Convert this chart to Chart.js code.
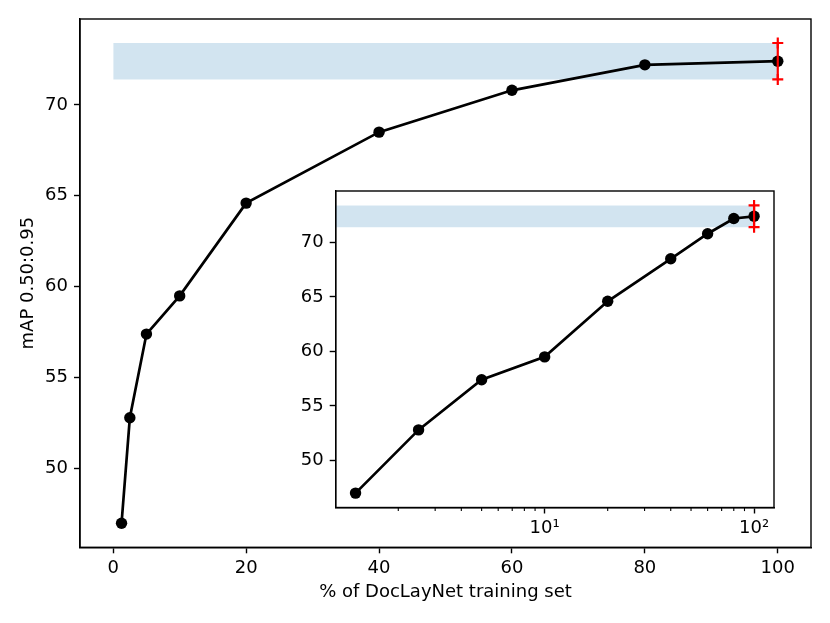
<!DOCTYPE html>
<html>
<head>
<meta charset="utf-8">
<script src="https://cdn.jsdelivr.net/npm/chart.js@4"></script>
<style>
  html, body { margin: 0; padding: 0; background: #fff; }
  #wrap { position: relative; width: 830px; height: 623px; }
  #main { position: absolute; left: 0; top: 0; }
  #inset { position: absolute; left: 280px; top: 171px; }
</style>
</head>
<body>
<div id="wrap">
  <canvas id="main" width="830" height="623"></canvas>
  <canvas id="inset" width="510" height="370"></canvas>
</div>
<script>
// data
const trainPct = [1.25, 2.5, 5, 10, 20, 40, 60, 80, 100];
const mapScores = [47.0, 52.8, 57.4, 59.5, 64.6, 68.5, 70.8, 72.2, 72.4];
const refBand = [71.4, 73.4];      // shaded range of the full-set result
const refPct = [0, 100];           // band extent on the main axis
const insetRefPct = [1, 100];      // band extent on the log inset
const errPct = 100;
const errLimits = [71.4, 73.4];    // red error bar at the full set

const xTicks = [0, 20, 40, 60, 80, 100];
const yTicks = [50, 55, 60, 65, 70];
const insetMajor = [10, 100];
const insetMajorLabels = ["10¹", "10²"];
const insetMinor = [2, 3, 4, 5, 6, 7, 8, 9, 20, 30, 40, 50, 60, 70, 80, 90];

const FONT = { family: "DejaVu Sans", size: 18 };
const AXIS_W = 1.4;

Chart.defaults.font.family = FONT.family;
Chart.defaults.font.size = FONT.size;
Chart.defaults.color = "#000";

const pts = (xs, ys) => xs.map((x, i) => ({ x: x, y: ys[i] }));

function makeDatasets(bandX) {
  return [
    {
      data: pts(bandX, [refBand[0], refBand[0]]),
      borderWidth: 0, pointRadius: 0, fill: false, order: 3
    },
    {
      data: pts(bandX, [refBand[1], refBand[1]]),
      borderWidth: 0, pointRadius: 0, fill: "-1",
      backgroundColor: "rgba(31,119,180,0.2)", order: 2
    },
    {
      data: pts(trainPct, mapScores),
      borderColor: "#000", borderWidth: 2.7,
      pointRadius: 5.7, pointBackgroundColor: "#000", pointBorderWidth: 0,
      fill: false, order: 1
    },
    {
      data: pts([errPct, errPct], errLimits),
      borderColor: "#f00", borderWidth: 2.2,
      pointStyle: "cross", pointRadius: 5.5,
      pointBorderColor: "#f00", pointBorderWidth: 2.2,
      fill: false, order: 0
    }
  ];
}

const tickGrid = {
  drawOnChartArea: false, drawTicks: true,
  tickLength: 6, tickColor: "#000", tickWidth: AXIS_W
};
const border = { display: true, color: "#000", width: AXIS_W };

// box around the plot area, white face for the inset
const framePlugin = {
  id: "frame",
  beforeDraw(chart, args, opts) {
    if (!opts.fill) return;
    const a = chart.chartArea, ctx = chart.ctx;
    ctx.save();
    ctx.fillStyle = "#fff";
    ctx.fillRect(a.left, a.top, a.right - a.left, a.bottom - a.top);
    ctx.restore();
  },
  afterDraw(chart) {
    const a = chart.chartArea, ctx = chart.ctx;
    ctx.save();
    ctx.strokeStyle = "#000";
    ctx.lineWidth = AXIS_W;
    ctx.strokeRect(a.left, a.top, a.right - a.left, a.bottom - a.top);
    ctx.restore();
  }
};

// short minor ticks on the log axis
const minorTicks = {
  id: "minorTicks",
  afterDraw(chart) {
    const sc = chart.scales.x, ctx = chart.ctx, b = chart.chartArea.bottom;
    ctx.save();
    ctx.strokeStyle = "#000";
    ctx.lineWidth = 1.1;
    insetMinor.forEach(v => {
      const px = sc.getPixelForValue(v);
      ctx.beginPath();
      ctx.moveTo(px, b);
      ctx.lineTo(px, b + 3.6);
      ctx.stroke();
    });
    ctx.restore();
  }
};

new Chart(document.getElementById("main"), {
  type: "line",
  data: { datasets: makeDatasets(refPct) },
  options: {
    responsive: false,
    animation: false,
    layout: { padding: { left: 0, top: 19, right: 19, bottom: 0 } },
    plugins: { legend: { display: false }, tooltip: { enabled: false }, frame: { fill: false } },
    scales: {
      x: {
        type: "linear", min: -5, max: 105,
        afterBuildTicks: s => { s.ticks = xTicks.map(v => ({ value: v })); },
        afterFit: s => { s.height = 75.7; },
        grid: tickGrid, border: border,
        ticks: { padding: 4, font: FONT, maxRotation: 0 },
        title: {
          display: true, text: "% of DocLayNet training set",
          font: FONT, padding: { top: 0, bottom: 20 }
        }
      },
      y: {
        type: "linear", min: 45.68, max: 74.72,
        afterBuildTicks: s => { s.ticks = yTicks.map(v => ({ value: v })); },
        afterFit: s => { s.width = 80; },
        grid: tickGrid, border: border,
        ticks: { padding: 6, font: FONT },
        title: {
          display: true, text: "mAP 0.50:0.95",
          font: FONT, padding: { top: 18, bottom: 0 }
        }
      }
    }
  },
  plugins: [framePlugin]
});

new Chart(document.getElementById("inset"), {
  type: "line",
  data: { datasets: makeDatasets(insetRefPct) },
  options: {
    responsive: false,
    animation: false,
    layout: { padding: { left: 0, top: 20, right: 16, bottom: 0 } },
    plugins: { legend: { display: false }, tooltip: { enabled: false }, frame: { fill: true } },
    scales: {
      x: {
        type: "logarithmic", min: 1.005, max: 124.5,
        afterBuildTicks: s => { s.ticks = insetMajor.map(v => ({ value: v })); },
        afterFit: s => { s.height = 33.5; },
        grid: tickGrid, border: border,
        ticks: {
          padding: 4, font: FONT, maxRotation: 0, autoSkip: false,
          callback: v => {
            const i = insetMajor.indexOf(v);
            return i >= 0 ? insetMajorLabels[i] : "";
          }
        }
      },
      y: {
        type: "linear", min: 45.68, max: 74.72,
        afterBuildTicks: s => { s.ticks = yTicks.map(v => ({ value: v })); },
        afterFit: s => { s.width = 55.7; },
        grid: tickGrid, border: border,
        ticks: { padding: 6, font: FONT }
      }
    }
  },
  plugins: [framePlugin, minorTicks]
});
</script>
</body>
</html>
